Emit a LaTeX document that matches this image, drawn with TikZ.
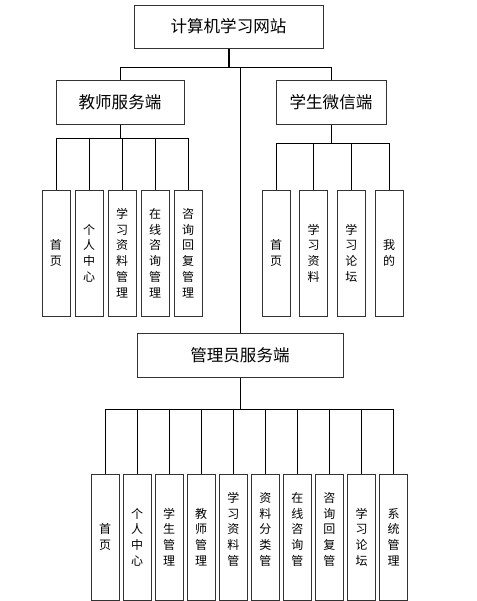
\documentclass[tikz,border=0pt]{standalone}
\usepackage{fontspec}
\setmainfont{Noto Sans CJK SC}
\usetikzlibrary{positioning}

\begin{document}
\begin{tikzpicture}[x=0.75pt, y=-0.75pt, line width=0.75pt,
  head/.style={rectangle, draw=black!80, minimum height=33pt, font=\fontsize{12.4}{14}\selectfont},
  leaf/.style={rectangle, draw=black!80, minimum width=21pt, minimum height=94.5pt, inner sep=0pt, align=center, font=\fontsize{9}{11.8}\selectfont}]
  \useasboundingbox (0,0) rectangle (477,601);
  % top level
  \node[head, minimum width=141.75pt, minimum height=32.25pt] (root) at (228.5,26.5) {计算机学习网站};
  \node[head, minimum width=96pt] (teacher) at (120,102) {教师服务端};
  \node[head, minimum width=82.5pt] (student) at (331,102) {学生微信端};
  \node[head, minimum width=154.5pt] (admin) at (240,355) {管理员服务端};
  % teacher side
  \node[leaf] (t1) at (56,253) {首\\页};
  \node[leaf, right=3pt of t1] (t2) {个\\人\\中\\心};
  \node[leaf, right=3pt of t2] (t3) {学\\习\\资\\料\\管\\理};
  \node[leaf, right=3pt of t3] (t4) {在\\线\\咨\\询\\管\\理};
  \node[leaf, right=3pt of t4] (t5) {咨\\询\\回\\复\\管\\理};
  % student side
  \node[leaf] (s1) at (276,253) {首\\页};
  \node[leaf, right=6.5pt of s1] (s2) {学\\习\\资\\料};
  \node[leaf, right=6.5pt of s2] (s3) {学\\习\\论\\坛};
  \node[leaf, right=6.5pt of s3] (s4) {我\\的};
  % admin side
  \node[leaf] (a1) at (105,537) {首\\页};
  \node[leaf, right=2.3pt of a1] (a2) {个\\人\\中\\心};
  \node[leaf, right=2.3pt of a2] (a3) {学\\生\\管\\理};
  \node[leaf, right=2.3pt of a3] (a4) {教\\师\\管\\理};
  \node[leaf, right=2.3pt of a4] (a5) {学\\习\\资\\料\\管\\\phantom{理}};
  \node[leaf, right=2.3pt of a5] (a6) {资\\料\\分\\类\\管\\\phantom{理}};
  \node[leaf, right=2.3pt of a6] (a7) {在\\线\\咨\\询\\管\\\phantom{理}};
  \node[leaf, right=2.3pt of a7] (a8) {咨\\询\\回\\复\\管\\\phantom{理}};
  \node[leaf, right=2.3pt of a8] (a9) {学\\习\\论\\坛};
  \node[leaf, right=2.3pt of a9] (a10) {系\\统\\管\\理};
  % connectors
  \path (root.south) ++(0,19) coordinate (rbus);
  \draw[line width=1.5pt] (root.south) -- (rbus);
  \draw (teacher.north) |- (rbus) -| (student.north);
  \draw (rbus -| admin.north) -- (admin.north);
  \path (teacher.south) ++(0,14) coordinate (tbus);
  \draw (teacher.south) -- (tbus);
  \draw (t1.north) |- (tbus) -| (t5.north);
  \foreach \n in {t2,t3,t4} \draw (\n.north) -- (\n.north |- tbus);
  \path (student.south) ++(0,19) coordinate (sbus);
  \draw (student.south) -- (sbus);
  \draw (s1.north) |- (sbus) -| (s4.north);
  \foreach \n in {s2,s3} \draw (\n.north) -- (\n.north |- sbus);
  \path (admin.south) ++(0,32) coordinate (abus);
  \draw (admin.south) -- (abus);
  \draw (a1.north) |- (abus) -| (a10.north);
  \foreach \n in {a2,a3,a4,a5,a6,a7,a8,a9} \draw (\n.north) -- (\n.north |- abus);
\end{tikzpicture}
\end{document}
